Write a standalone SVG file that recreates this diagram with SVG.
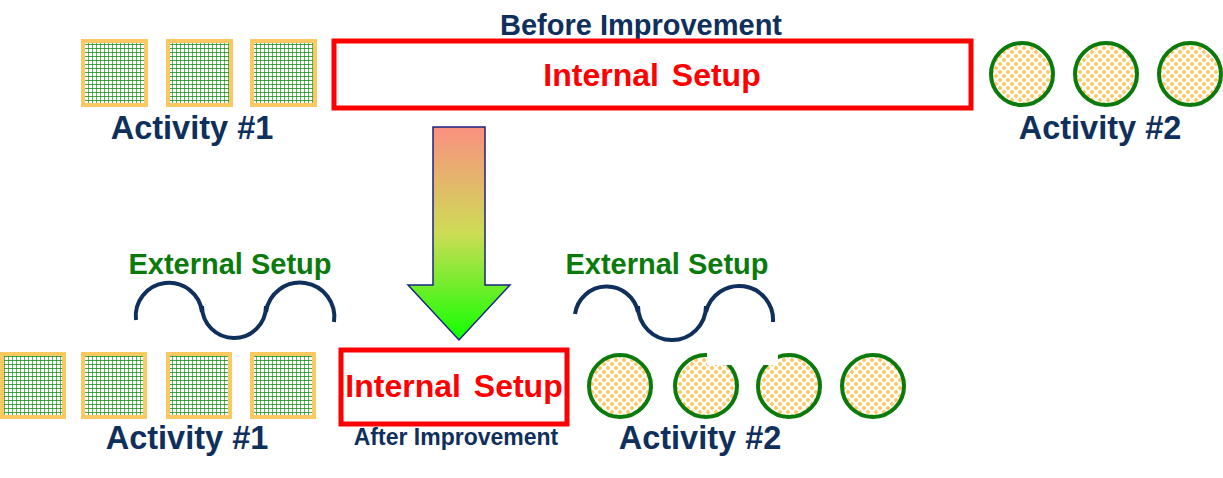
<svg xmlns="http://www.w3.org/2000/svg" width="1223" height="478" viewBox="0 0 1223 478">
<style>
.t{font-family:"Liberation Sans",Arial,sans-serif;font-weight:bold}
.sq{fill:url(#grid);stroke:#fcc862;stroke-width:4}
.ci{fill:url(#dots);stroke:#0a7a0a;stroke-width:4}
.arc{fill:none;stroke:#0f2f5c;stroke-width:4}
</style>
<defs>
<pattern id="grid" width="4" height="4" patternUnits="userSpaceOnUse"><rect width="4" height="4" fill="#fff"/><path d="M0 0H4M0 0V4" stroke="#0a8a0a" stroke-width="1.3"/></pattern>
<pattern id="dots" width="8" height="8" patternUnits="userSpaceOnUse"><rect width="8" height="8" fill="#fff"/><path d="M4 1.5L6.5 4L4 6.5L1.5 4Z M0 -2.5L2.5 0L0 2.5L-2.5 0Z M8 -2.5L10.5 0L8 2.5L5.5 0Z M0 5.5L2.5 8L0 10.5L-2.5 8Z M8 5.5L10.5 8L8 10.5L5.5 8Z" fill="#fcc862"/></pattern>
<linearGradient id="ag" x1="0" y1="0" x2="0" y2="1"><stop offset="0" stop-color="#fa8f80"/><stop offset="0.5" stop-color="#cddc55"/><stop offset="1" stop-color="#11ff00"/></linearGradient>
</defs>
<g id="before-title"><text class="t" x="641" y="35" font-size="29" fill="#0f2f5c" text-anchor="middle">Before Improvement</text></g>
<g id="top-activity1">
<rect class="sq" x="83" y="41" width="63" height="64"/><rect class="sq" x="168" y="41" width="63" height="64"/><rect class="sq" x="252" y="41" width="63" height="64"/>
<text class="t" x="192" y="139" font-size="32.5" fill="#0f2f5c" text-anchor="middle">Activity #1</text></g>
<g id="top-internal"><rect x="334" y="41" width="637" height="67" fill="#fff" stroke="#f00" stroke-width="5"/>
<text class="t" x="652" y="86" font-size="32" fill="#f00" text-anchor="middle" word-spacing="4">Internal Setup</text></g>
<g id="top-activity2">
<circle class="ci" cx="1022" cy="74" r="31"/><circle class="ci" cx="1106" cy="74" r="31"/><circle class="ci" cx="1190" cy="74" r="31"/>
<text class="t" x="1100" y="139" font-size="32.5" fill="#0f2f5c" text-anchor="middle">Activity #2</text></g>
<g id="big-arrow"><path d="M433 127H485V285H510L459 340L408 285H433Z" fill="url(#ag)" stroke="#1a237e" stroke-width="1.5"/></g>
<g id="connectors">
<path class="arc" d="M136 320A33 33 0 0 1 202 312"/>
<path class="arc" d="M202 306A32 32 0 0 0 266 306"/>
<path class="arc" d="M266 312A34 34 0 0 1 334 322"/>
<path class="arc" d="M575 314A32 32 0 0 1 638 312"/>
<path class="arc" d="M638 306A34 34 0 0 0 706 306"/>
<path class="arc" d="M706 312A34 34 0 0 1 773 322"/>
</g>
<g id="ext1"><text class="t" x="230" y="274" font-size="29" fill="#0a7a0a" text-anchor="middle">External Setup</text></g>
<g id="ext2"><text class="t" x="667" y="274" font-size="29" fill="#0a7a0a" text-anchor="middle">External Setup</text></g>
<g id="bottom-activity1">
<rect class="sq" x="2" y="354" width="62" height="63"/><rect class="sq" x="83" y="354" width="62" height="63"/><rect class="sq" x="168" y="354" width="62" height="63"/><rect class="sq" x="252" y="354" width="62" height="63"/>
<text class="t" x="187" y="449" font-size="32.5" fill="#0f2f5c" text-anchor="middle">Activity #1</text></g>
<g id="bottom-internal"><rect x="341" y="350" width="226" height="74" fill="#fff" stroke="#f00" stroke-width="5"/>
<text class="t" x="454" y="397" font-size="32" fill="#f00" text-anchor="middle" word-spacing="4">Internal Setup</text>
<text class="t" x="456" y="445" font-size="23" fill="#0f2f5c" text-anchor="middle">After Improvement</text></g>
<g id="bottom-activity2">
<circle class="ci" cx="620" cy="386" r="31"/><circle class="ci" cx="706" cy="386" r="31"/><circle class="ci" cx="789" cy="386" r="31"/><circle class="ci" cx="873" cy="386" r="31"/>
<rect x="707" y="343" width="71" height="22" fill="#fff"/>
<text class="t" x="700" y="449" font-size="32.5" fill="#0f2f5c" text-anchor="middle">Activity #2</text></g>
</svg>
